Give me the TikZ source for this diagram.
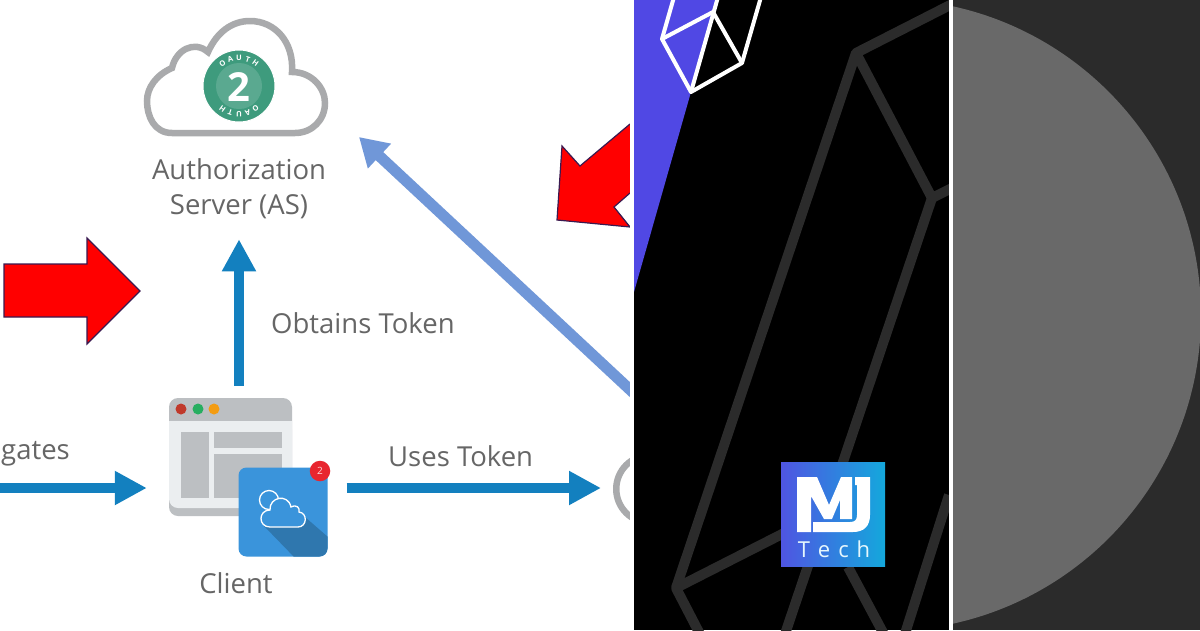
\documentclass[tikz,border=0pt]{standalone}
\usepackage{fontspec}
\setmainfont{Open Sans}
\usetikzlibrary{arrows.meta,shapes}
\definecolor{flowblue}{HTML}{1380BF}
\definecolor{lightflow}{HTML}{7097D8}
\definecolor{labelgray}{HTML}{666666}
\definecolor{cloudgray}{HTML}{A9AAAC}
\definecolor{oauthgreen}{HTML}{3E9B7D}
\definecolor{panelline}{HTML}{2B2B2B}
\definecolor{violetfill}{HTML}{5048E4}
\definecolor{wingray}{HTML}{BCBFC2}
\definecolor{winlight}{HTML}{EBEEF0}
\definecolor{appblue}{HTML}{3A94DB}
\definecolor{appshade}{HTML}{2F77AE}
\definecolor{logoleft}{HTML}{4F55E2}
\definecolor{logoright}{HTML}{14A8DC}
\definecolor{redline}{HTML}{3A1A50}
\definecolor{dotred}{HTML}{C0392B}
\definecolor{dotgreen}{HTML}{27AE60}
\definecolor{dotorange}{HTML}{F39C12}
\definecolor{badgered}{HTML}{E8262F}
\tikzstyle{caption}=[text=labelgray,font=\fontsize{27.5}{35}\selectfont,align=center,inner sep=0pt]
\tikzstyle{flow}=[draw=flowblue,line width=10pt,-{Triangle[length=32pt,width=32pt]}]
\tikzstyle{flowback}=[draw=lightflow,line width=11pt,-{Triangle[length=28pt,width=32pt]}]
\tikzstyle{redarrow}=[draw=redline,line width=1.2pt,fill=red,line join=miter]
\tikzstyle{panelstroke}=[draw=panelline,line width=10pt,line join=bevel]
\tikzstyle{whitestroke}=[draw=white,line width=4pt,line join=round]
\tikzstyle{oauthletter}=[text=white,font=\fontsize{7.5}{8}\selectfont\bfseries,inner sep=0pt]

\begin{document}
\begin{tikzpicture}[x=1pt,y=-1pt]
\useasboundingbox (0,0) rectangle (1200,630);
\fill[white] (0,0) rectangle (1200,630);
% authorization server
  \draw[cloudgray,line width=6.5pt,fill=white] (172,133)
    .. controls (154,133) and (147,116) .. (147,101)
    .. controls (147,88) and (156,75) .. (172,68)
    .. controls (176,50) and (194,40) .. (208,52)
    .. controls (217,32) and (232,21) .. (250,21)
    .. controls (275,21) and (294,42) .. (292,72)
    .. controls (312,72) and (325,88) .. (325,103)
    .. controls (325,120) and (312,133) .. (295,133) -- cycle;
  \node[circle,fill=oauthgreen,draw=white,line width=1pt,minimum size=72pt,inner sep=0pt] (badge) at (239,86) {};
  \fill[white,opacity=0.15] (239,86) circle (23);
  \node[text=white,font=\fontsize{40}{40}\selectfont\bfseries,inner sep=0pt] (two) at (239,87) {2};
  \foreach \ch/\ang [count=\i] in {O/-36,A/-18,U/0,T/18,H/36} {
    \node[oauthletter,rotate=-\ang] (top\i) at ({239+28*sin(\ang)},{86-28*cos(\ang)}) {\ch};
    \node[oauthletter,rotate=180-\ang] (bot\i) at ({239-28*sin(\ang)},{86+28*cos(\ang)}) {\ch};
  }
  \node[caption] (as) at (239,189) {Authorization\\Server (AS)};
% client window
  \node[fill=wingray,rounded corners=9pt,minimum width=123pt,minimum height=118pt,inner sep=0pt] (window) at (230.5,457) {};
  \fill[winlight,rounded corners=9pt] (169,508) -- (292,508) -- (292,421) -- (169,421) -- cycle;
  \fill[winlight] (169,421) rectangle (292,430);
  \fill[wingray] (181,432) rectangle (209,498);
  \fill[wingray] (214,432) rectangle (282,448);
  \fill[wingray] (214,454) rectangle (282,498);
  \fill[dotred] (181,409) circle (5.5);
  \fill[dotgreen] (198,409) circle (5.5);
  \fill[dotorange] (214,409) circle (5.5);
  \node[minimum size=89pt,fill=appblue,rounded corners=8pt,inner sep=0pt] (client) at (283,512) {};
  \begin{scope}
    \clip[rounded corners=8pt] (238.5,467.5) rectangle (327.5,556.5);
    \fill[appshade] (264,526) -- (305,517) -- (328,537) -- (328,560) -- (297,560) -- cycle;
  \end{scope}
  \draw[white,line width=1.3pt,fill=appblue] (269,500) circle (9.5);
  \draw[white,line width=1.3pt,fill=appblue] (270,527)
    .. controls (258,527) and (258,510) .. (270,510)
    .. controls (269,497) and (288,493) .. (291,507)
    .. controls (297,504) and (300,508) .. (299,512)
    .. controls (308,513) and (307,527) .. (298,527) -- cycle;
  \node[circle,fill=badgered,minimum size=20.5pt,inner sep=0pt,text=white!85!red,font=\fontsize{10}{10}\selectfont] (badgetwo) at (320,471) {2};
  \node[caption] (clientlabel) at (236,583) {Client};
% resource server, cut by the panel
  \node[circle,draw=cloudgray,line width=6.5pt,minimum size=67.5pt,inner sep=0pt] (resource) at (650,489) {};
  \coordinate (delegates) at (0,488);
  \coordinate (resourceout) at (640,399);
  \coordinate (asback) at (359,137);
% arrows
  \draw[flow,shorten >=22pt] (delegates) -- (window.west |- delegates);
  \draw[flow,shorten <=12pt,shorten >=20pt] (window.north -| as.south) -- (as.south);
  \draw[flow,shorten <=19pt,shorten >=12pt] (client.east |- delegates) -- (resource.west |- delegates);
  \draw[flowback] (resourceout) -- (asback);
  \node[caption,anchor=east] (gates) at (70,454) {gates};
  \node[caption,anchor=west] (obtainslabel) at (271,323) {Obtains Token};
  \node[caption,anchor=west] (useslabel) at (388,456) {Uses Token};
% red arrows
  \draw[redarrow] (4,264) -- (87,264) -- (87,238) -- (140,291) -- (87,344) -- (87,317) -- (4,317) -- cycle;
  \draw[redarrow] (630,124) -- (580,166) -- (562,146) -- (557,220) -- (630,227) -- (614,207) -- (630,193);
% dark panels
  \fill[white] (630,0) rectangle (634,630);
  \fill[black] (634,0) rectangle (949,630);
  \fill[violetfill] (634,0) -- (717,0) -- (691,92) -- (634,292) -- cycle;
  \clip (634,0) rectangle (1200,630);
  \draw[whitestroke] (676,-10) -- (662,39) -- (691,92) -- (742,63) -- (763,-10);
  \draw[whitestroke] (662,39) -- (713,12) -- (742,63);
  \draw[whitestroke] (691,92) -- (720,-10);
  \draw[panelstroke] (960,0) -- (856,53) -- (676,588) -- (703,640);
  \draw[panelstroke] (856,53) -- (932,198) -- (960,184);
  \draw[panelstroke] (932,198) -- (783,640);
  \draw[panelstroke] (676,588) -- (790,530);
  \draw[panelstroke] (848,567) -- (887,640);
  \draw[panelstroke] (949,495) -- (903,640);
% logo
  \node[minimum size=104pt,inner sep=0pt,left color=logoleft,right color=logoright] (logo) at (833,514) {};
  \fill[white] (797,477) -- (817,477) -- (829,505) -- (841,477) -- (852,477) -- (852,519) -- (840,519) -- (840,500) -- (832,519) -- (824,519) -- (811,496) -- (811,532) -- (797,532) -- cycle;
  \fill[white] (855,477) -- (870,477) -- (870,515) .. controls (870,526) and (864,532) .. (853,532) -- (813,532) -- (813,522) -- (850,522) .. controls (855,522) and (857,520) .. (857,515) -- (857,485) -- (855,485) -- cycle;
  \node[text=white!90!cyan,font=\fontsize{22}{22}\selectfont,inner sep=0pt] (logotext) at (834,549) {T\hspace{8pt}e\hspace{8pt}c\hspace{8pt}h};
% white divider and right panel
  \fill[white] (949,0) rectangle (953,630);
  \fill[panelline] (953,0) rectangle (1200,630);
  \begin{scope}
    \clip (953,0) rectangle (1200,630);
    \fill[black!59] (885,315) circle (316);
  \end{scope}
\end{tikzpicture}
\end{document}
